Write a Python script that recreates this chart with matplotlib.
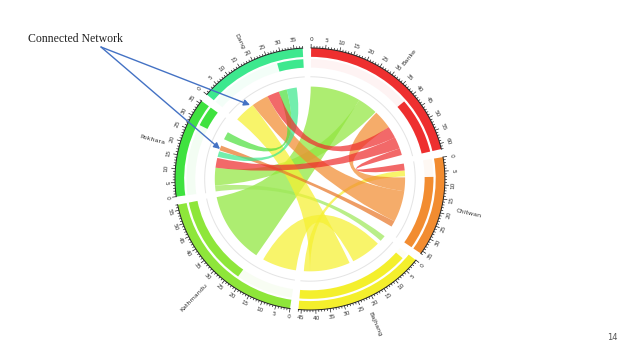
import numpy as np
import matplotlib.pyplot as plt
from matplotlib.path import Path
from matplotlib.patches import PathPatch, Wedge
from matplotlib.collections import LineCollection
from matplotlib.colors import to_rgb

# sectors of the circle (clockwise from top)
sectors = ["Banke", "Chitwan", "Bajhang", "Kathmandu", "Pokhara", "Dang"]
sector_size = [62, 36, 46, 57, 36, 38]
sector_colors = ["#ee2f2f", "#f28c30", "#f4ef2c", "#8ee63a", "#3fe23f", "#3de88e"]

# inner track: coloured part of each sector
inner_start = [40, 7, 2.5, 22, 28, 28]
inner_end = [62, 36, 46, 57, 36, 38]

# ribbons
rib_src = ["Kathmandu", "Pokhara", "Pokhara", "Bajhang", "Bajhang", "Bajhang", "Chitwan",
           "Chitwan", "Chitwan", "Pokhara", "Dang", "Banke", "Banke", "Banke"]
rib_src_from = [21, 3, 0, 5, 22, 42, 7, 14, 30, 27, 29, 45, 51, 57]
rib_src_to = [57, 12, 3, 20, 42, 45, 14, 30, 33, 31, 34, 51, 57, 60.5]
rib_dst = ["Banke", "Banke", "Bajhang", "Kathmandu", "Dang", "Chitwan", "Banke",
           "Dang", "Pokhara", "Dang", "Pokhara", "Dang", "Pokhara", "Chitwan"]
rib_dst_from = [0, 25, 0, 0, 0, 3.5, 35.5, 10.5, 21, 25, 17.6, 19, 12, 0]
rib_dst_to = [25, 35, 3, 17, 10.5, 6.5, 45, 19, 23.5, 29, 20.5, 25, 17, 3.5]
rib_colors = ["#8ee63a", "#92e640", "#9ee85a", "#f6f030", "#f6f030", "#f6f030", "#f28c30",
              "#f28c30", "#e8782a", "#4fe040", "#3de88e", "#ee2f2f", "#ee2f2f", "#ee2f2f"]

gap = 3.6
deg_per_unit = (360 - gap * len(sectors)) / sum(sector_size)
starts = []
a = 0.5
for s in sector_size:
    starts.append(a)
    a += s * deg_per_unit + gap


def ang(name, v):
    i = sectors.index(name)
    return starts[i] + v * deg_per_unit


def arc_pts(r, t0, t1, n=40):
    t = np.radians(np.linspace(t0, t1, n))
    return np.column_stack([r * np.sin(t), r * np.cos(t)])


fig = plt.figure(figsize=(6.38, 3.59), dpi=100)
ax = fig.add_axes([0.2108, 0.027, 0.550, 0.949])
ax.set_xlim(-1.3, 1.3)
ax.set_ylim(-1.3, 1.3)
ax.axis('off')

R_CHORD = 0.705

# ring bars, inner track, thin grey circle
for i, name in enumerate(sectors):
    t0 = starts[i]
    t1 = t0 + sector_size[i] * deg_per_unit
    col = sector_colors[i]
    ax.add_patch(Wedge((0, 0), 1.0, 90 - t1, 90 - t0, width=0.068, color=col, lw=0))
    pale = tuple(0.94 + 0.06 * np.array(to_rgb(col)))
    ax.add_patch(Wedge((0, 0), 0.915, 90 - t1, 90 - t0, width=0.065, color=pale, lw=0))
    c0 = ang(name, inner_start[i])
    c1 = ang(name, inner_end[i])
    ax.add_patch(Wedge((0, 0), 0.915, 90 - c1, 90 - c0, width=0.065, color=col, lw=0))
    g = arc_pts(0.78, t0, t1)
    ax.plot(g[:, 0], g[:, 1], color="#e4e4e4", lw=0.7)
    # axis line and ticks
    o = arc_pts(1.0, t0, t1)
    ax.plot(o[:, 0], o[:, 1], color="#222222", lw=0.7)
    segs = []
    for v in range(0, int(sector_size[i]) + 1):
        t = np.radians(ang(name, v))
        L = 1.03 if v % 5 == 0 else 1.016
        segs.append([(np.sin(t), np.cos(t)), (L * np.sin(t), L * np.cos(t))])
        if v % 5 == 0:
            td = np.degrees(t)
            rot = -td if (td < 90 or td > 270) else 180 - td
            ax.text(1.065 * np.sin(t), 1.065 * np.cos(t), str(v), fontsize=4.2,
                    rotation=rot, rotation_mode='anchor', ha='center', va='center',
                    color="#333333")
    ax.add_collection(LineCollection(segs, colors="#222222", linewidths=0.5))
    tm = t0 + sector_size[i] * deg_per_unit / 2
    tr = np.radians(tm)
    rot = 90 - tm if tm <= 180 else 270 - tm
    ha = 'left' if tm <= 180 else 'right'
    ax.text(1.11 * np.sin(tr), 1.11 * np.cos(tr), name, fontsize=4.6,
            rotation=rot, rotation_mode='anchor', ha=ha, va='center', color="#333333")

# ribbons
for k in range(len(rib_src)):
    a0, a1 = ang(rib_src[k], rib_src_from[k]), ang(rib_src[k], rib_src_to[k])
    b0, b1 = ang(rib_dst[k], rib_dst_from[k]), ang(rib_dst[k], rib_dst_to[k])
    A = arc_pts(R_CHORD, a0, a1)
    B = arc_pts(R_CHORD, b0, b1)
    verts = list(A) + [(0, 0), B[0]] + list(B[1:]) + [(0, 0), A[0], A[0]]
    codes = ([Path.MOVETO] + [Path.LINETO] * (len(A) - 1) + [Path.CURVE3, Path.CURVE3]
             + [Path.LINETO] * (len(B) - 1) + [Path.CURVE3, Path.CURVE3, Path.CLOSEPOLY])
    ax.add_patch(PathPatch(Path(verts, codes), facecolor=rib_colors[k], edgecolor='none',
                           alpha=0.72))

# slide annotation
ov = fig.add_axes([0, 0, 1, 1], facecolor='none')
ov.set_xlim(0, 638)
ov.set_ylim(359, 0)
ov.axis('off')
ov.text(28, 42, "Connected Network", fontsize=8.5, family="Liberation Serif", color="#222222",
        va='baseline')
for tip in [(250, 105), (220, 149)]:
    ov.annotate("", xy=tip, xytext=(101, 47),
                arrowprops=dict(arrowstyle='-|>', color="#4472c4", lw=1.0, mutation_scale=9,
                                shrinkA=0, shrinkB=0))
ov.text(618, 338, "14", fontsize=6, color="#555555", ha='right', va='center')

fig.savefig("out.png", dpi=100)
